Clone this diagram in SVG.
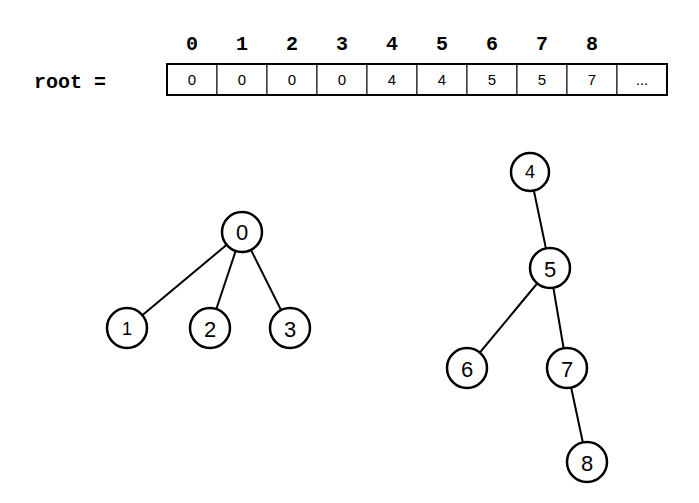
<svg xmlns="http://www.w3.org/2000/svg" width="699" height="503" viewBox="0 0 699 503">
<style>
.c{fill:#fff;stroke:#000;stroke-width:2.5}
.n{font-family:"Liberation Sans",Arial,sans-serif;font-size:22px;text-anchor:middle;dominant-baseline:central}
.m{font-family:"Liberation Mono",monospace;font-size:20px;font-weight:bold;text-anchor:middle}
.v{font-family:"Liberation Sans",Arial,sans-serif;font-size:15px;text-anchor:middle}
.cell{fill:#fff;stroke:#000;stroke-width:1}
line{stroke:#000;stroke-width:2}
</style>
<rect width="699" height="503" fill="#fff"/>
<g id="array">
<text class="m" x="70" y="88">root =</text>
<g class="m">
<text x="192" y="50">0</text><text x="242" y="50">1</text><text x="292" y="50">2</text><text x="342" y="50">3</text><text x="392" y="50">4</text><text x="442" y="50">5</text><text x="492" y="50">6</text><text x="542" y="50">7</text><text x="592" y="50">8</text>
</g>
<rect class="cell" x="167" y="64" width="50" height="31"/><rect class="cell" x="217" y="64" width="50" height="31"/><rect class="cell" x="267" y="64" width="50" height="31"/><rect class="cell" x="317" y="64" width="50" height="31"/><rect class="cell" x="367" y="64" width="50" height="31"/><rect class="cell" x="417" y="64" width="50" height="31"/><rect class="cell" x="467" y="64" width="50" height="31"/><rect class="cell" x="517" y="64" width="50" height="31"/><rect class="cell" x="567" y="64" width="50" height="31"/><rect class="cell" x="617" y="64" width="50" height="31"/>
<rect x="167" y="64" width="500" height="31" fill="none" stroke="#000" stroke-width="2"/>
<g class="v">
<text x="192" y="85">0</text><text x="242" y="85">0</text><text x="292" y="85">0</text><text x="342" y="85">0</text><text x="392" y="85">4</text><text x="442" y="85">4</text><text x="492" y="85">5</text><text x="542" y="85">5</text><text x="592" y="85">7</text><text x="642" y="85">...</text>
</g>
</g>
<g id="edges">
<line x1="242" y1="232" x2="127" y2="328"/><line x1="242" y1="232" x2="210" y2="328"/><line x1="242" y1="232" x2="290" y2="328"/>
<line x1="530" y1="172" x2="550" y2="268"/><line x1="550" y1="268" x2="467" y2="368"/><line x1="550" y1="268" x2="567" y2="368"/><line x1="567" y1="368" x2="587" y2="462"/>
</g>
<g id="n0"><circle class="c" cx="242" cy="232" r="20"/><text class="n" x="242" y="232" font-size="18">0</text></g>
<g id="n1"><circle class="c" cx="127" cy="328" r="20"/><text class="n" x="127" y="329" style="font-size:18px">1</text></g>
<g id="n2"><circle class="c" cx="210" cy="328" r="20"/><text class="n" x="210" y="329">2</text></g>
<g id="n3"><circle class="c" cx="290" cy="328" r="20"/><text class="n" x="290" y="329">3</text></g>
<g id="n4"><circle class="c" cx="530" cy="172" r="19"/><text class="n" x="530" y="172" style="font-size:18px">4</text></g>
<g id="n5"><circle class="c" cx="550" cy="268" r="20"/><text class="n" x="550" y="269">5</text></g>
<g id="n6"><circle class="c" cx="467" cy="368" r="20"/><text class="n" x="467" y="369">6</text></g>
<g id="n7"><circle class="c" cx="567" cy="368" r="20"/><text class="n" x="567" y="369">7</text></g>
<g id="n8"><circle class="c" cx="587" cy="462" r="20"/><text class="n" x="587" y="463">8</text></g>
</svg>
